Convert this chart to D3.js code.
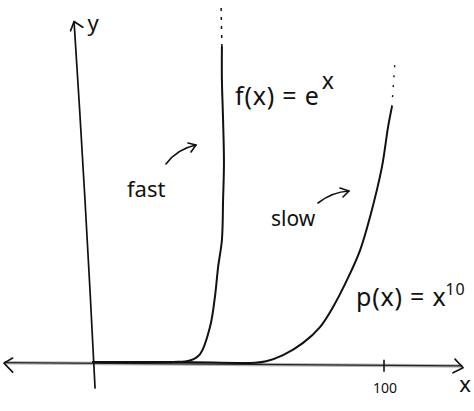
<!DOCTYPE html>
<html><head><meta charset="utf-8">
<script src="https://cdn.jsdelivr.net/npm/d3@7"></script>
<style>
html,body{margin:0;padding:0;background:#fff;}
svg{display:block;}
text{font-family:"Noto Sans",sans-serif;fill:#111;}
</style>
</head><body>
<svg id="c" width="474" height="411"></svg>
<script>
// ---- data ----
const xTicks = [100];
const xTickLabels = ["100"];
// f(x) = e^x  (solid part, then dotted continuation)
const fastX = [0, 20, 27.5, 33.3, 36.8, 40.2, 41.9, 43.0, 44.3, 44.7, 45.0, 44.7, 44.3, 44.3];
const fastY = [0, -0.1, 0, 0.4, 2.2, 9.7, 18.1, 26.4, 33.9, 45.0, 55.3, 67.2, 78.3, 87.5];
const fastDotX = [44.3, 44.0];
const fastDotY = [87.5, 99.2];
// p(x) = x^10
const slowX = [0, 30, 55.7, 59.5, 65.3, 72.2, 78.0, 82.5, 87.3, 91.8, 95.2, 99.3, 101.4, 102.7];
const slowY = [0, 0, -0.2, 0.2, 1.9, 5.3, 9.7, 15.3, 22.8, 31.1, 40.3, 54.2, 65.3, 70.8];
const slowDotX = [102.7, 103.8];
const slowDotY = [70.8, 83.9];

// ---- layout ----
const W = 474, H = 411;
const svg = d3.select("#c");
svg.append("rect").attr("width", W).attr("height", H).attr("fill", "#fff");

const x = d3.scaleLinear().domain([0, 100]).range([93, 384]);
const y = d3.scaleLinear().domain([0, 100]).range([362, 2]);

const ink = "#111";

// x axis (fuzzy pencil line)
const xAxisPts = [[-30.6, -0.2], [126.9, -1.1]];
const axLine = d3.line().x(d => x(d[0])).y(d => y(d[1]));
svg.append("path").attr("d", axLine(xAxisPts)).attr("stroke", "#999").attr("stroke-width", 3.5).attr("opacity", 0.7).attr("fill", "none");
svg.append("path").attr("d", axLine(xAxisPts)).attr("stroke", "#222").attr("stroke-width", 1.3).attr("fill", "none");
// arrowheads on x axis
svg.append("path").attr("d", `M${x(-27.6)},${y(-2.8)} L${x(-30.6)},${y(-0.3)} L${x(-27.6)},${y(1.1)}`)
  .attr("stroke", ink).attr("stroke-width", 1.6).attr("fill", "none").attr("stroke-linecap", "round").attr("stroke-linejoin", "round");
svg.append("path").attr("d", `M${x(124.4)},${y(0.8)} L${x(127.2)},${y(-1.6)} L${x(123.7)},${y(-3.0)}`)
  .attr("stroke", ink).attr("stroke-width", 1.6).attr("fill", "none").attr("stroke-linecap", "round").attr("stroke-linejoin", "round");

// y axis
svg.append("path").attr("d", `M${x(0.7)},${y(-7.2)} Q${x(-2.5)},${y(45)} ${x(-6.5)},${y(94.4)}`)
  .attr("stroke", ink).attr("stroke-width", 1.7).attr("fill", "none").attr("stroke-linecap", "round");
svg.append("path").attr("d", `M${x(-7.7)},${y(92)} L${x(-6.5)},${y(94.6)} L${x(-3.5)},${y(93.0)}`)
  .attr("stroke", ink).attr("stroke-width", 1.7).attr("fill", "none").attr("stroke-linecap", "round").attr("stroke-linejoin", "round");

// ticks
xTicks.forEach((t, i) => {
  svg.append("line").attr("x1", x(t)).attr("x2", x(t)).attr("y1", y(0.6)).attr("y2", y(-2.7))
    .attr("stroke", ink).attr("stroke-width", 1.6);
  svg.append("text").attr("x", x(t) + 1).attr("y", 393).attr("text-anchor", "middle")
    .attr("font-size", 14).text(xTickLabels[i]);
});
svg.append("text").attr("x", 465).attr("y", 392).attr("text-anchor", "middle").attr("font-size", 22).text("x");
svg.append("text").attr("x", 93).attr("y", 31).attr("text-anchor", "middle").attr("font-size", 22).text("y");

// curves
const curve = d3.line().x(d => x(d[0])).y(d => y(d[1])).curve(d3.curveCatmullRom.alpha(0.5));
const zip = (a, b) => a.map((v, i) => [v, b[i]]);
svg.append("path").attr("d", curve(zip(fastX, fastY))).attr("stroke", ink).attr("stroke-width", 2)
  .attr("fill", "none").attr("stroke-linecap", "round");
svg.append("path").attr("d", curve(zip(fastDotX, fastDotY))).attr("stroke", ink).attr("stroke-width", 1.5)
  .attr("fill", "none").attr("stroke-dasharray", "3,6");
svg.append("path").attr("d", curve(zip(slowX, slowY))).attr("stroke", ink).attr("stroke-width", 2)
  .attr("fill", "none").attr("stroke-linecap", "round");
svg.append("path").attr("d", curve(zip(slowDotX, slowDotY))).attr("stroke", ink).attr("stroke-width", 1.4)
  .attr("fill", "none").attr("stroke-dasharray", "2,8");

// labels
const f1 = svg.append("text").attr("x", 235).attr("y", 105).attr("font-size", 25).attr("letter-spacing", 0.8);
f1.append("tspan").text("f(x) = e");
f1.append("tspan").attr("dy", -16).attr("font-size", 23).attr("dx", 2).text("x");

const f2 = svg.append("text").attr("x", 356).attr("y", 306).attr("font-size", 25).attr("letter-spacing", 0.8);
f2.append("tspan").text("p(x) = x");
f2.append("tspan").attr("dy", -11).attr("dx", -1).attr("font-size", 16).text("10");

svg.append("text").attr("x", 127).attr("y", 197).attr("font-size", 22).text("fast");
svg.append("text").attr("x", 271).attr("y", 226).attr("font-size", 21).text("slow");

// annotation arrows
function arrow(p0, c, p1, b1, b2) {
  svg.append("path").attr("d", `M${p0[0]},${p0[1]} Q${c[0]},${c[1]} ${p1[0]},${p1[1]}`)
    .attr("stroke", ink).attr("stroke-width", 1.6).attr("fill", "none").attr("stroke-linecap", "round");
  svg.append("path").attr("d", `M${b1[0]},${b1[1]} L${p1[0]},${p1[1]} L${b2[0]},${b2[1]}`)
    .attr("stroke", ink).attr("stroke-width", 1.6).attr("fill", "none").attr("stroke-linecap", "round").attr("stroke-linejoin", "round");
}
arrow([166, 164], [177, 149], [196, 145], [188, 143], [191, 152]);
arrow([318, 203], [332, 192], [349, 191], [340, 188], [343, 197]);
</script>
</body></html>
